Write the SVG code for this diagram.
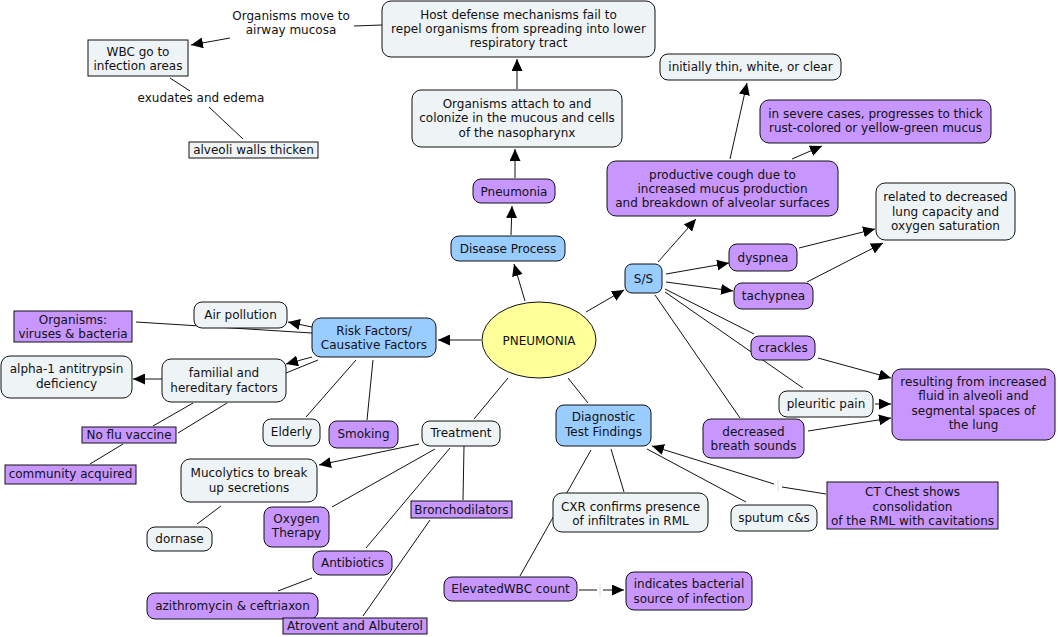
<svg xmlns="http://www.w3.org/2000/svg" width="1058" height="637" viewBox="0 0 1058 637">
<style>
text{font-family:"DejaVu Sans",Verdana,"Liberation Sans",sans-serif;font-size:12px;fill:#111;text-anchor:middle}
.lt{fill:#eef3f6;stroke:#111;stroke-width:1}
.pu{fill:#c896ff;stroke:#111;stroke-width:1}
.bl{fill:#99ccff;stroke:#111;stroke-width:1}
.ye{fill:#ffff99;stroke:#111;stroke-width:1}
.c line{stroke:#111;stroke-width:1;fill:none}
.c line.a{marker-end:url(#ah)}
.c line.t{stroke:#e2e2e2}
</style>
<defs>
<marker id="ah" markerUnits="userSpaceOnUse" markerWidth="12" markerHeight="11" refX="12" refY="5.5" orient="auto" viewBox="0 0 12 11">
<path d="M0,0 L12,5.5 L0,11 z" fill="#000"/>
</marker>
</defs>
<rect width="1058" height="637" fill="#fff"/>
<g class="c" id="connectors">
<line class="a" x1="517" y1="89" x2="517" y2="59"/>
<line class="a" x1="515" y1="178" x2="515" y2="149"/>
<line class="a" x1="511" y1="235" x2="512" y2="206"/>
<line class="a" x1="525" y1="301" x2="514" y2="264"/>
<line class="a" x1="586" y1="312" x2="624" y2="290"/>
<line class="a" x1="481" y1="340" x2="438" y2="340"/>
<line x1="508" y1="378" x2="474" y2="419"/>
<line x1="568" y1="378" x2="588" y2="403"/>
<line x1="382" y1="25" x2="354" y2="26"/>
<line class="a" x1="230" y1="38" x2="191" y2="45"/>
<line x1="170" y1="78" x2="190" y2="91"/>
<line x1="209" y1="107" x2="243" y2="139"/>
<line class="a" x1="658" y1="262" x2="696" y2="219"/>
<line class="a" x1="730" y1="159" x2="747" y2="83"/>
<line class="a" x1="792" y1="159" x2="822" y2="146"/>
<line class="a" x1="666" y1="274" x2="729" y2="263"/>
<line class="a" x1="666" y1="282" x2="733" y2="291"/>
<line class="a" x1="799" y1="248" x2="875" y2="229"/>
<line class="a" x1="807" y1="282" x2="883" y2="243"/>
<line x1="665" y1="289" x2="754" y2="334"/>
<line x1="665" y1="292" x2="803" y2="388"/>
<line x1="655" y1="295" x2="740" y2="418"/>
<line class="a" x1="818" y1="358" x2="891" y2="378"/>
<line class="a" x1="875" y1="404" x2="891" y2="404"/>
<line class="a" x1="808" y1="431" x2="891" y2="418"/>
<line class="a" x1="312" y1="327" x2="288" y2="322"/>
<line x1="136" y1="322" x2="312" y2="333"/>
<line class="a" x1="312" y1="357" x2="286" y2="364"/>
<line x1="318" y1="360" x2="286" y2="373"/>
<line x1="193" y1="403" x2="153" y2="426"/>
<line x1="227" y1="403" x2="178" y2="433"/>
<line x1="123" y1="444" x2="90" y2="464"/>
<line class="a" x1="162" y1="379" x2="133" y2="379"/>
<line x1="356" y1="360" x2="306" y2="417"/>
<line x1="373" y1="360" x2="367" y2="420"/>
<line class="a" x1="419" y1="444" x2="319" y2="465"/>
<line x1="221" y1="506" x2="197" y2="524"/>
<line x1="435" y1="449" x2="332" y2="507"/>
<line x1="450" y1="448" x2="366" y2="548"/>
<line x1="464" y1="446" x2="463" y2="500"/>
<line x1="312" y1="578" x2="278" y2="591"/>
<line x1="430" y1="520" x2="363" y2="616"/>
<line x1="591" y1="450" x2="520" y2="576"/>
<line x1="611" y1="449" x2="624" y2="492"/>
<line x1="647" y1="449" x2="746" y2="502"/>
<line x1="826" y1="494" x2="782" y2="487"/>
<line class="t" x1="778" y1="480" x2="778" y2="492"/>
<line class="a" x1="774" y1="484" x2="652" y2="446"/>
<line x1="579" y1="590" x2="597" y2="590"/>
<line class="t" x1="600" y1="583" x2="600" y2="597"/>
<line class="a" x1="603" y1="590" x2="624" y2="590"/>
</g>
<g id="n-host"><rect class="lt" x="382" y="1" width="273" height="56" rx="9"/><text x="518.5" y="19">Host defense mechanisms fail to</text><text x="518.5" y="33">repel organisms from spreading into lower</text><text x="518.5" y="47">respiratory tract</text></g>
<g id="n-attach"><rect class="lt" x="412" y="90" width="210" height="57" rx="9"/><text x="517" y="108">Organisms attach to and</text><text x="517" y="122">colonize in the mucous and cells</text><text x="517" y="137">of the nasopharynx</text></g>
<g id="n-pneumonia-small"><rect class="pu" x="473" y="179" width="82" height="24" rx="8"/><text x="514" y="196">Pneumonia</text></g>
<g id="n-disease"><rect class="bl" x="451" y="236" width="114" height="25" rx="8"/><text x="508" y="253">Disease Process</text></g>
<g id="n-move-label"><text x="291" y="20">Organisms move to</text><text x="291" y="34">airway mucosa</text></g>
<g id="n-wbc"><rect class="lt" x="88" y="40" width="100" height="36"/><text x="138" y="56">WBC go to</text><text x="138" y="70">infection areas</text></g>
<g id="n-exudates-label"><text x="201" y="102">exudates and edema</text></g>
<g id="n-alveoli"><rect class="lt" x="189" y="142" width="129" height="16"/><text x="253.5" y="154">alveoli walls thicken</text></g>
<g id="n-thin"><rect class="lt" x="660" y="54" width="181" height="26" rx="8"/><text x="750.5" y="71">initially thin, white, or clear</text></g>
<g id="n-severe"><rect class="pu" x="760" y="100" width="231" height="43" rx="9"/><text x="875.5" y="118">in severe cases, progresses to thick</text><text x="875.5" y="132">rust-colored or yellow-green mucus</text></g>
<g id="n-cough"><rect class="pu" x="607" y="161" width="231" height="55" rx="9"/><text x="722.5" y="179">productive cough due to</text><text x="722.5" y="193">increased mucus production</text><text x="722.5" y="207">and breakdown of alveolar surfaces</text></g>
<g id="n-related"><rect class="lt" x="876" y="183" width="139" height="57" rx="9"/><text x="945.5" y="201">related to decreased</text><text x="945.5" y="216">lung capacity and</text><text x="945.5" y="230">oxygen saturation</text></g>
<g id="n-ss"><rect class="bl" x="625" y="264" width="37" height="29" rx="7"/><text x="643.5" y="283">S/S</text></g>
<g id="n-dyspnea"><rect class="pu" x="729" y="244" width="68" height="27" rx="8"/><text x="763" y="262">dyspnea</text></g>
<g id="n-tachypnea"><rect class="pu" x="734" y="283" width="79" height="26" rx="8"/><text x="773.5" y="300">tachypnea</text></g>
<g id="n-crackles"><rect class="pu" x="751" y="336" width="64" height="24" rx="8"/><text x="783" y="352">crackles</text></g>
<g id="n-pleuritic"><rect class="lt" x="779" y="391" width="94" height="26" rx="8"/><text x="826" y="408">pleuritic pain</text></g>
<g id="n-decreased"><rect class="pu" x="703" y="419" width="101" height="39" rx="8"/><text x="753.5" y="436">decreased</text><text x="753.5" y="450">breath sounds</text></g>
<g id="n-resulting"><rect class="pu" x="892" y="369" width="163" height="71" rx="9"/><text x="973.5" y="386">resulting from increased</text><text x="973.5" y="400">fluid in alveoli and</text><text x="973.5" y="415">segmental spaces of</text><text x="973.5" y="429">the lung</text></g>
<g id="n-main"><ellipse class="ye" cx="539" cy="340" rx="57" ry="38"/><text x="539" y="345">PNEUMONIA</text></g>
<g id="n-risk"><rect class="bl" x="312" y="318" width="124" height="39" rx="9"/><text x="374" y="335">Risk Factors/</text><text x="374" y="349">Causative Factors</text></g>
<g id="n-air"><rect class="lt" x="194" y="302" width="93" height="26" rx="8"/><text x="240.5" y="319">Air pollution</text></g>
<g id="n-organisms"><rect class="pu" x="14" y="311" width="118" height="31"/><text x="73" y="324">Organisms:</text><text x="73" y="338">viruses &amp; bacteria</text></g>
<g id="n-familial"><rect class="lt" x="162" y="359" width="124" height="43" rx="9"/><text x="224" y="377">familial and</text><text x="224" y="392">hereditary factors</text></g>
<g id="n-alpha"><rect class="lt" x="1" y="356" width="131" height="42" rx="9"/><text x="66.5" y="373">alpha-1 antitrypsin</text><text x="66.5" y="388">deficiency</text></g>
<g id="n-noflu"><rect class="pu" x="82" y="427" width="94" height="16"/><text x="129" y="439">No flu vaccine</text></g>
<g id="n-community"><rect class="pu" x="5" y="465" width="131" height="19"/><text x="70.5" y="478">community acquired</text></g>
<g id="n-elderly"><rect class="lt" x="263" y="419" width="57" height="27" rx="8"/><text x="291.5" y="436">Elderly</text></g>
<g id="n-smoking"><rect class="pu" x="329" y="421" width="69" height="27" rx="8"/><text x="363.5" y="438">Smoking</text></g>
<g id="n-treatment"><rect class="lt" x="422" y="421" width="78" height="25" rx="8"/><text x="461" y="437">Treatment</text></g>
<g id="n-mucolytics"><rect class="lt" x="181" y="459" width="136" height="43" rx="9"/><text x="249" y="477">Mucolytics to break</text><text x="249" y="492">up secretions</text></g>
<g id="n-dornase"><rect class="lt" x="147" y="527" width="65" height="24" rx="8"/><text x="179.5" y="543">dornase</text></g>
<g id="n-oxygen"><rect class="pu" x="264" y="507" width="65" height="40" rx="8"/><text x="296.5" y="523">Oxygen</text><text x="296.5" y="537">Therapy</text></g>
<g id="n-antibiotics"><rect class="pu" x="313" y="551" width="79" height="24" rx="8"/><text x="352.5" y="567">Antibiotics</text></g>
<g id="n-azithro"><rect class="pu" x="147" y="593" width="171" height="26" rx="8"/><text x="232.5" y="610">azithromycin &amp; ceftriaxon</text></g>
<g id="n-broncho"><rect class="pu" x="411" y="501" width="101" height="17"/><text x="461.5" y="514">Bronchodilators</text></g>
<g id="n-atrovent"><rect class="pu" x="283" y="618" width="144" height="16"/><text x="355" y="630">Atrovent and Albuterol</text></g>
<g id="n-diagnostic"><rect class="bl" x="556" y="405" width="95" height="41" rx="8"/><text x="603.5" y="421">Diagnostic</text><text x="603.5" y="436">Test Findings</text></g>
<g id="n-cxr"><rect class="lt" x="553" y="493" width="155" height="39" rx="9"/><text x="630.5" y="511">CXR confirms presence</text><text x="630.5" y="525">of infiltrates in RML</text></g>
<g id="n-sputum"><rect class="lt" x="731" y="505" width="86" height="26" rx="8"/><text x="774" y="522">sputum c&amp;s</text></g>
<g id="n-ct"><rect class="pu" x="827" y="482" width="171" height="47"/><text x="912.5" y="496">CT Chest shows</text><text x="912.5" y="511">consolidation</text><text x="912.5" y="525">of the RML with cavitations</text></g>
<g id="n-wbccount"><rect class="pu" x="444" y="577" width="133" height="24" rx="8"/><text x="510.5" y="593">ElevatedWBC count</text></g>
<g id="n-indicates"><rect class="pu" x="626" y="572" width="126" height="38" rx="8"/><text x="689" y="588">indicates bacterial</text><text x="689" y="603">source of infection</text></g>
</svg>
